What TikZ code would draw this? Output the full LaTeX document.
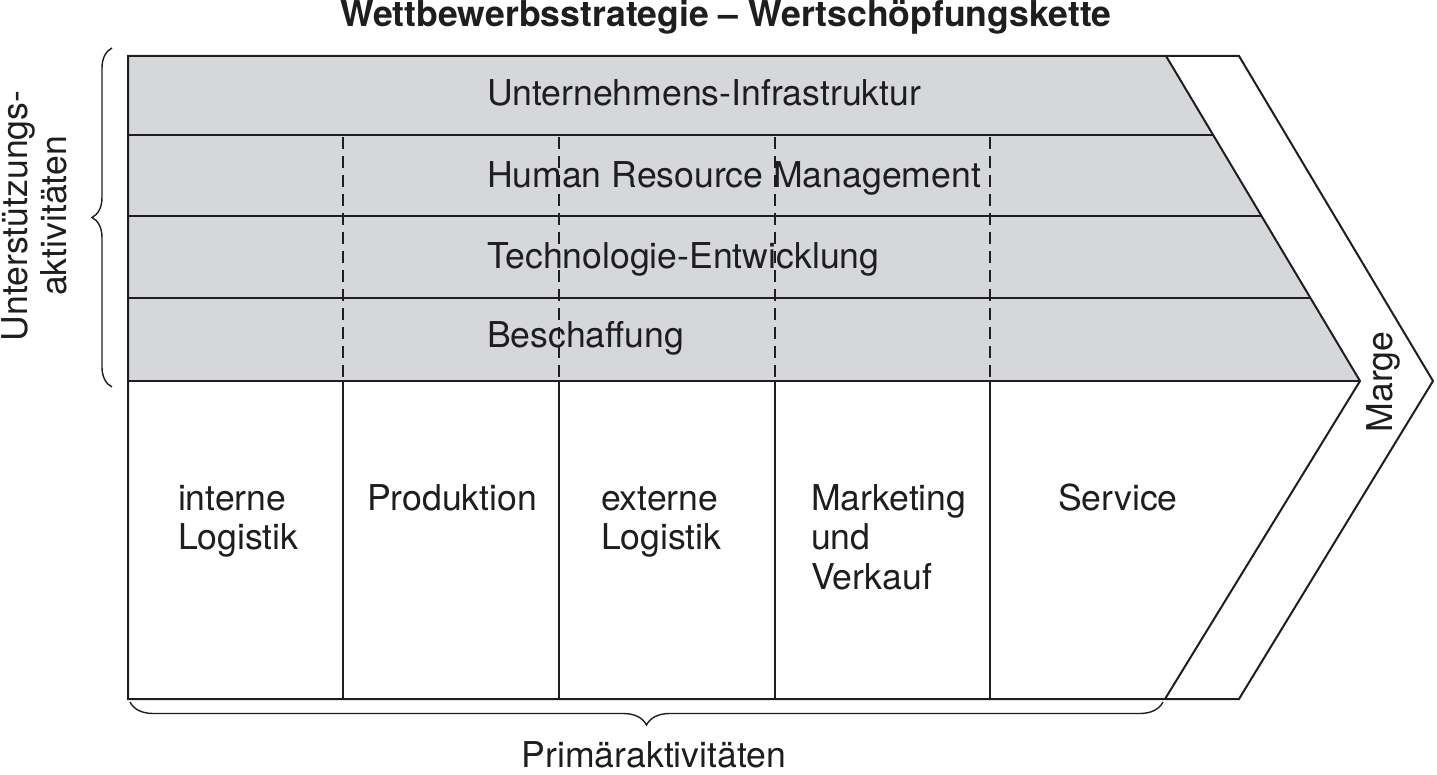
\documentclass[tikz,border=0pt]{standalone}
\usepackage{fontspec}
\setmainfont{TeX Gyre Heros}
\usetikzlibrary{decorations.pathreplacing}
\definecolor{ink}{RGB}{30,30,30}
\definecolor{band}{RGB}{214,215,218}
\begin{document}
\begin{tikzpicture}[x=0.5pt,y=-0.5pt,
  every node/.style={inner sep=0pt, outer sep=0pt, text=ink, font=\fontsize{17.8}{19.8}\selectfont},
  frame/.style={draw=ink, line width=1pt, line join=miter},
  sep/.style={draw=ink, line width=0.7pt},
  dashsep/.style={draw=ink, line width=0.85pt, dash pattern=on 6pt off 3.5pt},
  bracestyle/.style={draw=ink, line width=0.7pt, decorate, decoration={brace, amplitude=#1}},
  lbl/.style={anchor=base west}]
\useasboundingbox (0,0) rectangle (1437,775);
% corner points
\coordinate (tl) at (128,56);
\coordinate (bl) at (128,699);
\coordinate (itop) at (1166,56);
\coordinate (itip) at (1360,381);
\coordinate (ibot) at (1165,699);
\coordinate (otop) at (1239,56);
\coordinate (otip) at (1433,381);
\coordinate (obot) at (1239,699);
\coordinate (ml) at (128,381);
% grey support band
\fill[band] (tl) -- (itop) -- (itip) -- (ml) -- cycle;
\foreach \y/\x in {135/1213, 216/1261.5, 298/1310.5}
  \draw[frame] (128,\y) -- (\x,\y);
\draw[frame] (ml) -- (itip);
\foreach \x in {343,559,775,990} {
  \draw[sep] (\x,381) -- (\x,699);
  \draw[dashsep] (\x,137) -- (\x,381);
}
\draw[frame] (itop) -- (itip) -- (ibot);
\draw[frame] (tl) -- (otop) -- (otip) -- (obot) -- (bl) -- cycle;
% braces
\coordinate (lb1) at (112,387);
\coordinate (lb2) at (112,48);
\coordinate (bb1) at (1163,702);
\coordinate (bb2) at (130,702);
\draw[bracestyle=10pt] (lb1) -- (lb2);
\draw[bracestyle=11.5pt] (bb1) -- (bb2);
% texts
\node[anchor=base] (title) at (726,27) {\bfseries Wettbewerbsstrategie – Wertschöpfungskette};
\node[lbl] (infra) at (487,106) {Unternehmens-Infrastruktur};
\node[lbl] (hrm) at (487,188) {Human Resource Management};
\node[lbl] (tech) at (487,269) {Technologie-Entwicklung};
\node[lbl] (besch) at (487,348) {Beschaffung};
\node[lbl] (il) at (178,510) {\begin{tabular}[t]{@{}l@{}}interne\\Logistik\end{tabular}};
\node[lbl] (prod) at (367,510) {Produktion};
\node[lbl] (el) at (601,510) {\begin{tabular}[t]{@{}l@{}}externe\\Logistik\end{tabular}};
\node[lbl] (mv) at (811,510) {\begin{tabular}[t]{@{}l@{}}Marketing\\und\\Verkauf\end{tabular}};
\node[lbl] (serv) at (1058,510) {Service};
\node[anchor=base, rotate=90] (marge) at (1392,382) {Marge};
\node[anchor=base, rotate=90] (ua) at (27,216) {\begin{tabular}[t]{@{}c@{}}Unterstützungs-\\aktivitäten\end{tabular}};
\node[anchor=base] (prim) at (654,767) {Primäraktivitäten};
\end{tikzpicture}
\end{document}
